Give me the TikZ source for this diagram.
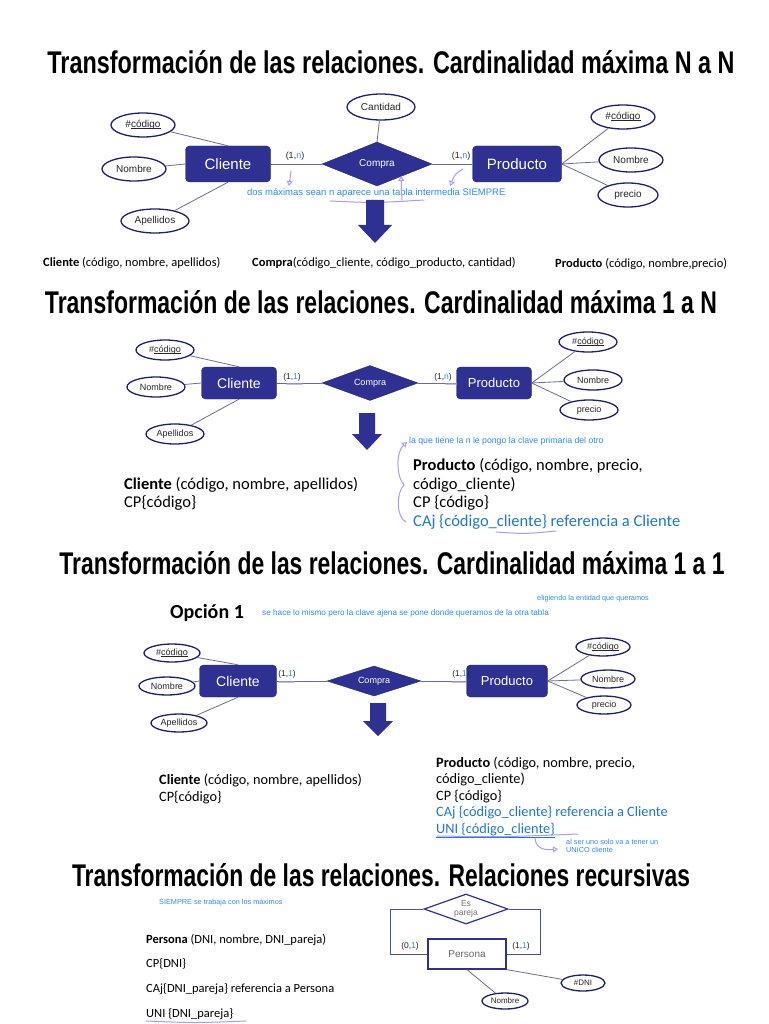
\documentclass[tikz,border=0pt]{standalone}
\usepackage{fontspec}
\usepackage{graphicx}
\setmainfont{Carlito}
\setsansfont{Liberation Sans}
\usetikzlibrary{shapes.geometric,arrows.meta}

\definecolor{erazul}{HTML}{2E3192}
\definecolor{erborde}{HTML}{1F1F6B}
\definecolor{linea}{HTML}{6B6B9A}
\definecolor{nota}{HTML}{2D8CEB}
\definecolor{azultxt}{HTML}{1F78C8}
\definecolor{lila}{HTML}{A99CF2}

\newcommand{\tam}[2]{\fontsize{#1}{#2}\selectfont}
\newcommand{\titulo}[2]{\resizebox{#1}{23pt}{\sffamily\bfseries #2}}
\newcommand{\subr}[1]{\setbox0\hbox{#1}\rlap{\rule[-1.2pt]{\wd0}{0.5pt}}\box0}

\tikzset{
  entidad/.style={draw=erazul!80!black, fill=erazul, rounded corners=4pt, text=white,
    font=\sffamily\tam{15}{18}, inner sep=0pt},
  relacion/.style={diamond, aspect=2.5, fill=erazul, draw=erazul!80!black, text=white,
    font=\sffamily\tam{10}{12}, inner sep=0pt},
  atributo/.style={ellipse, draw=erborde, line width=1.3pt, fill=white,
    font=\sffamily\tam{10}{12}, text=black!85, inner sep=0pt},
  enlace/.style={draw=linea, line width=0.8pt},
  card/.style={font=\sffamily\tam{9}{11}, text=black!85, inner sep=0pt},
  nota/.style={text=nota, font=\sffamily\tam{7.5}{8.5}, inner sep=0pt, anchor=west, align=left},
  lapiz/.style={draw=lila, line width=1pt, line cap=round},
  puntalapiz/.style={-{Triangle[open,length=5pt,width=6pt]}},
  flecha/.style={fill=erazul},
  tabla/.style={anchor=base west, inner sep=0pt},
}

\begin{document}
\begin{tikzpicture}[x=1pt, y=-1pt]
  \useasboundingbox[fill=white] (0,0) rectangle (768,1024);

  % ---------- N a N ----------
  \node (tit1) at (391,62) {\titulo{687pt}{Transformación de las relaciones. Cardinalidad máxima N a N}};
  \node[entidad, minimum width=85, minimum height=36] (cli1) at (228,164) {Cliente};
  \node[relacion, minimum width=110, minimum height=44] (rel1) at (377,164) {Compra};
  \node[entidad, minimum width=89, minimum height=36] (pro1) at (517,164) {Producto};
  \node[atributo, minimum width=64, minimum height=24] (cod1) at (143,125) {\#\subr{código}};
  \node[atributo, minimum width=64, minimum height=24] (nom1) at (134,169) {Nombre};
  \node[atributo, minimum width=68, minimum height=24] (ape1) at (155,221) {Apellidos};
  \node[atributo, minimum width=68, minimum height=26] (can1) at (381,107) {Cantidad};
  \node[atributo, minimum width=64, minimum height=24] (pcod1) at (623,117) {\#\subr{código}};
  \node[atributo, minimum width=64, minimum height=24] (pnom1) at (631,160) {Nombre};
  \node[atributo, minimum width=60, minimum height=24] (ppre1) at (628,195) {precio};
  \draw[enlace] (cod1) -- (cli1.north);
  \draw[enlace] (nom1) -- (cli1.west);
  \draw[enlace] (ape1) -- (cli1.south);
  \draw[enlace] (can1) -- (rel1.north);
  \draw[enlace] (cli1) -- (rel1);
  \draw[enlace] (rel1) -- (pro1);
  \draw[enlace] (pro1.east) -- (pcod1);
  \draw[enlace] (pro1.east) -- (pnom1);
  \draw[enlace] (pro1.east) -- (ppre1);
  \node[card] (c1a) at (295,156) {(1,\textcolor{nota}{n})};
  \node[card] (c1b) at (461,156) {(1,\textcolor{nota}{n})};
  \node[nota, font=\sffamily\tam{9.5}{11}] (n1) at (247,193) {dos máximas sean n aparece una tabla intermedia SIEMPRE};
  % trazos a mano
  \draw[lapiz, puntalapiz] (291,171) -- (289,186);
  \draw[lapiz, puntalapiz] (402,200) -- (401,176);
  \draw[lapiz, puntalapiz] (463,169) .. controls (455,174) .. (450,186);
  \draw[lapiz] (330,201) .. controls (375,203) .. (424,200);
  \fill[flecha, shift={(375,200)}] (-9,0) -- (9,0) -- (9,25) -- (17,25) -- (0,43) -- (-17,25) -- (-9,25) -- cycle;
  \node[tabla, font=\tam{12.5}{14}] (t1a) at (43,266) {\textbf{Cliente} (código, nombre, apellidos)};
  \node[tabla, font=\tam{12.5}{14}] (t1b) at (252,266) {\textbf{Compra}(código\_cliente, código\_producto, cantidad)};
  \node[tabla, font=\tam{12.5}{14}] (t1c) at (555,267) {\textbf{Producto} (código, nombre,precio)};

  % ---------- 1 a N ----------
  \node (tit2) at (381,302) {\titulo{672pt}{Transformación de las relaciones. Cardinalidad máxima 1 a N}};
  \node[entidad, minimum width=75, minimum height=32, font=\sffamily\tam{14}{16}] (cli2) at (239,383) {Cliente};
  \node[relacion, minimum width=96, minimum height=35, font=\sffamily\tam{9}{11}] (rel2) at (370,383) {Compra};
  \node[entidad, minimum width=75, minimum height=32, font=\sffamily\tam{13}{16}] (pro2) at (494,383) {Producto};
  \node[atributo, minimum width=58, minimum height=20, font=\sffamily\tam{9}{10}] (cod2) at (165,350) {\#\subr{código}};
  \node[atributo, minimum width=58, minimum height=20, font=\sffamily\tam{9}{10}] (nom2) at (156,387) {Nombre};
  \node[atributo, minimum width=58, minimum height=20, font=\sffamily\tam{9}{10}] (ape2) at (175,434) {Apellidos};
  \node[atributo, minimum width=58, minimum height=20, font=\sffamily\tam{9}{10}] (pcod2) at (588,342) {\#\subr{código}};
  \node[atributo, minimum width=58, minimum height=20, font=\sffamily\tam{9}{10}] (pnom2) at (593,380) {Nombre};
  \node[atributo, minimum width=58, minimum height=20, font=\sffamily\tam{9}{10}] (ppre2) at (589,410) {precio};
  \draw[enlace] (cod2) -- (cli2.north);
  \draw[enlace] (nom2) -- (cli2.west);
  \draw[enlace] (ape2) -- (cli2.south);
  \draw[enlace] (cli2) -- (rel2);
  \draw[enlace] (rel2) -- (pro2);
  \draw[enlace] (pro2.east) -- (pcod2);
  \draw[enlace] (pro2.east) -- (pnom2);
  \draw[enlace] (pro2.east) -- (ppre2);
  \node[card, font=\sffamily\tam{8.5}{10}] (c2a) at (292,377) {(1,\textcolor{nota}{1})};
  \node[card, font=\sffamily\tam{8.5}{10}] (c2b) at (443,377) {(1,\textcolor{nota}{n})};
  \draw[lapiz, line width=2pt, opacity=0.7] (287,384) -- (302,384);
  \draw[lapiz, line width=2pt, opacity=0.7] (446,384) -- (456,384);
  \fill[flecha, shift={(367,413)}] (-8,0) -- (8,0) -- (8,21) -- (15,21) -- (0,37) -- (-15,21) -- (-8,21) -- cycle;
  \node[nota, font=\sffamily\tam{8.7}{10}] (n2) at (409,441) {la que tiene la n le pongo la clave primaria del otro};
  \draw[lapiz, puntalapiz] (406,522) .. controls (396,517) and (396,493) .. (404,485)
    .. controls (396,476) and (396,452) .. (407,442);
  \node[tabla, font=\tam{16.5}{18}] (t2a) at (124,489) {\textbf{Cliente} (código, nombre, apellidos)};
  \node[tabla, font=\tam{16.5}{18}] (t2b) at (124,507) {CP\{código\}};
  \node[tabla, font=\tam{16.5}{18}] (t2c) at (413,470) {\textbf{Producto} (código, nombre, precio,};
  \node[tabla, font=\tam{16.5}{18}] (t2d) at (413,489) {código\_cliente)};
  \node[tabla, font=\tam{16.5}{18}] (t2e) at (413,507) {CP \{código\}};
  \node[tabla, font=\tam{16.5}{18}, text=azultxt] (t2f) at (413,526) {CAj \{código\_cliente\} referencia a Cliente};
  \draw[lapiz] (496,532) .. controls (525,534) .. (556,531);

  % ---------- 1 a 1 ----------
  \node (tit3) at (392,563) {\titulo{665pt}{Transformación de las relaciones. Cardinalidad máxima 1 a 1}};
  \node[tabla, font=\tam{20}{22}\bfseries] (op1) at (170,618) {Opción 1};
  \node[nota, font=\sffamily\tam{8.2}{9}] (n3a) at (262,613) {se hace lo mismo pero la clave ajena se pone donde queramos de la otra tabla};
  \node[nota, font=\sffamily\tam{7.3}{8}] (n3b) at (537,599) {eligiendo la entidad que queramos};
  \node[entidad, minimum width=77, minimum height=32, font=\sffamily\tam{14}{16}] (cli3) at (238,681) {Cliente};
  \node[relacion, minimum width=94, minimum height=30, font=\sffamily\tam{9}{11}] (rel3) at (374,681) {Compra};
  \node[entidad, minimum width=81, minimum height=32, font=\sffamily\tam{13}{16}] (pro3) at (507,681) {Producto};
  \node[atributo, minimum width=56, minimum height=18, font=\sffamily\tam{9}{10}] (cod3) at (172,653) {\#\subr{código}};
  \node[atributo, minimum width=56, minimum height=18, font=\sffamily\tam{9}{10}] (nom3) at (167,686) {Nombre};
  \node[atributo, minimum width=56, minimum height=18, font=\sffamily\tam{9}{10}] (ape3) at (179,723) {Apellidos};
  \node[atributo, minimum width=54, minimum height=18, font=\sffamily\tam{9}{10}] (pcod3) at (603,647) {\#\subr{código}};
  \node[atributo, minimum width=54, minimum height=18, font=\sffamily\tam{9}{10}] (pnom3) at (608,679) {Nombre};
  \node[atributo, minimum width=54, minimum height=18, font=\sffamily\tam{9}{10}] (ppre3) at (604,705) {precio};
  \draw[enlace] (cod3) -- (cli3.north);
  \draw[enlace] (nom3) -- (cli3.west);
  \draw[enlace] (ape3) -- (cli3.south);
  \draw[enlace] (cli3) -- (rel3);
  \draw[enlace] (rel3) -- (pro3);
  \draw[enlace] (pro3.east) -- (pcod3);
  \draw[enlace] (pro3.east) -- (pnom3);
  \draw[enlace] (pro3.east) -- (ppre3);
  \node[card, font=\sffamily\tam{8.5}{10}] (c3a) at (287,674) {(1,\textcolor{nota}{1})};
  \node[card, font=\sffamily\tam{8.5}{10}] (c3b) at (461,674) {(1,\textcolor{nota}{1})};
  \draw[lapiz, line width=2pt, opacity=0.7] (279,682) -- (294,682);
  \draw[lapiz, line width=2pt, opacity=0.7] (452,682) -- (465,682);
  \fill[flecha, shift={(378,703)}] (-8,0) -- (8,0) -- (8,18) -- (15,18) -- (0,33) -- (-15,18) -- (-8,18) -- cycle;
  \node[tabla, font=\tam{14.3}{16}] (t3a) at (159,784) {\textbf{Cliente} (código, nombre, apellidos)};
  \node[tabla, font=\tam{14.3}{16}] (t3b) at (159,801) {CP\{código\}};
  \node[tabla, font=\tam{14.3}{16}] (t3c) at (436,767) {\textbf{Producto} (código, nombre, precio,};
  \node[tabla, font=\tam{14.3}{16}] (t3d) at (436,783) {código\_cliente)};
  \node[tabla, font=\tam{14.3}{16}] (t3e) at (436,800) {CP \{código\}};
  \node[tabla, font=\tam{14.3}{16}, text=azultxt] (t3f) at (436,816) {CAj \{código\_cliente\} referencia a Cliente};
  \node[tabla, font=\tam{14.3}{16}, text=azultxt] (t3g) at (436,833) {\underline{UNI \{código\_cliente\}}};
  \draw[lapiz] (437,836) .. controls (505,837) .. (578,834);
  \draw[lapiz, puntalapiz] (535,838) .. controls (536,850) and (546,850) .. (558,849);
  \node[nota, font=\sffamily\tam{7.3}{8}] (n3c) at (566,846) {al ser uno solo va a tener un\\UNICO cliente};

  % ---------- recursivas ----------
  \node (tit4) at (381,875) {\titulo{618pt}{Transformación de las relaciones. Relaciones recursivas}};
  \node[nota, font=\sffamily\tam{7.3}{8}] (n4) at (159,903) {SIEMPRE se trabaja con los máximos};
  \node[tabla, font=\tam{12.5}{14}] (t4a) at (146,943) {\textbf{Persona} (DNI, nombre, DNI\_pareja)};
  \node[tabla, font=\tam{12.5}{14}] (t4b) at (146,967) {CP\{DNI\}};
  \node[tabla, font=\tam{12.5}{14}] (t4c) at (146,992) {CAj\{DNI\_pareja\} referencia a Persona};
  \node[tabla, font=\tam{12.5}{14}] (t4d) at (146,1017) {UNI \{DNI\_pareja\}};
  \draw[lapiz] (146,1021) .. controls (195,1023) .. (246,1021);
  \node[diamond, aspect=2.8, draw=erazul, line width=1.2pt, fill=white, text=black!55, inner sep=0pt,
    minimum width=84, minimum height=30, align=center, font=\sffamily\tam{8.5}{9}] (es) at (466,909) {Es\\pareja};
  \node[draw=erazul, line width=1.2pt, fill=white, text=black!60, minimum width=78, minimum height=30,
    font=\sffamily\tam{10}{12}] (per) at (467,954) {Persona};
  \draw[draw=erazul!85, line width=1pt] (es.west) -- ++(-33,0) |- (per.west);
  \draw[draw=erazul!85, line width=1pt] (es.east) -- ++(32,0) |- (per.east);
  \node[card, font=\sffamily\tam{8.5}{10}] (c4a) at (410,946) {(0,\textcolor{nota}{1})};
  \node[card, font=\sffamily\tam{8.5}{10}] (c4b) at (521,946) {(1,\textcolor{nota}{1})};
  \node[atributo, minimum width=44, minimum height=16, font=\sffamily\tam{8}{9}] (dni) at (583,983) {\#DNI};
  \node[atributo, minimum width=46, minimum height=16, font=\sffamily\tam{8}{9}] (nom4) at (505,1001) {Nombre};
  \draw[enlace] (per.south east) -- (dni);
  \draw[enlace] (per.south) -- (nom4);
\end{tikzpicture}
\end{document}
